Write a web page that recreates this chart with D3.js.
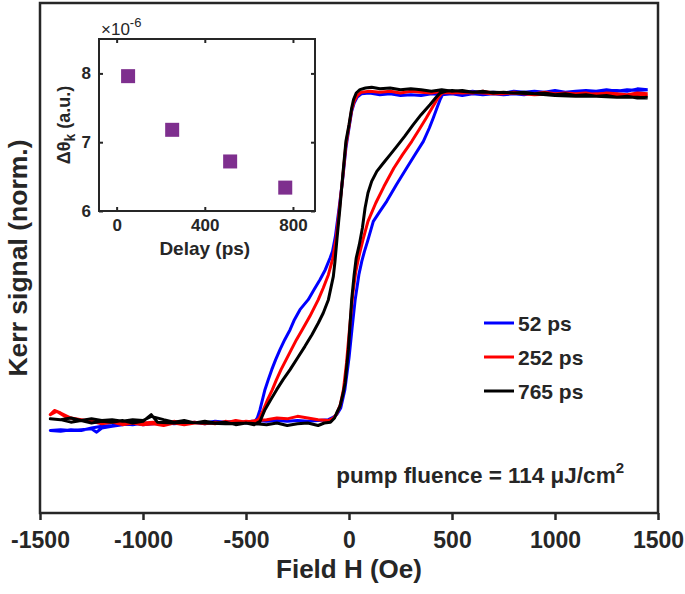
<!DOCTYPE html>
<html>
<head>
<meta charset="utf-8">
<script src="https://cdn.jsdelivr.net/npm/d3@7"></script>
<style>
  body { margin: 0; background: #fff; }
  text { font-family: "Liberation Sans", Arial, sans-serif; font-weight: bold; fill: #262626; }
</style>
</head>
<body>
<div id="chart"></div>
<script>
// hysteresis loops, [field (Oe), normalized Kerr signal], down branch then up branch
var loop52 = [
  [1450, 1.01], [1400, 1.015], [1350, 1.0], [1300, 1.005], [1250, 0.995], [1200, 1.0], [1150, 0.99], [1100, 0.995],
  [1050, 0.985], [1000, 0.99], [950, 0.985], [900, 0.99], [850, 0.98], [800, 0.985], [750, 0.98], [700, 0.985],
  [650, 0.98], [600, 0.985], [550, 0.975], [500, 0.985], [450, 0.98], [400, 0.985], [350, 0.975], [300, 0.98],
  [250, 0.975], [200, 0.985], [150, 0.98], [100, 0.99], [60, 0.985], [40, 0.965], [25, 0.93], [13, 0.88],
  [0, 0.78], [-15, 0.66], [-30, 0.48], [-48, 0.30], [-66, 0.13], [-80, 0.04], [-92, 0.0], [-115, -0.07],
  [-141, -0.13], [-170, -0.19], [-198, -0.25], [-238, -0.31], [-265, -0.37], [-286, -0.43], [-312, -0.49],
  [-335, -0.55], [-356, -0.61], [-375, -0.67], [-392, -0.73], [-408, -0.79], [-420, -0.85], [-432, -0.91],
  [-445, -0.96], [-460, -0.985], [-500, -0.99], [-550, -0.98], [-600, -0.99], [-650, -0.985], [-700, -0.995],
  [-750, -0.985], [-800, -0.99], [-850, -0.995], [-900, -0.985], [-950, -0.995], [-1000, -1.0], [-1050, -0.99],
  [-1100, -1.0], [-1150, -1.01], [-1200, -1.02], [-1225, -1.045], [-1250, -1.025], [-1300, -1.03], [-1350, -1.035],
  [-1400, -1.03], [-1450, -1.035],
  [-1400, -1.04], [-1350, -1.03], [-1300, -1.035], [-1250, -1.02], [-1200, -1.01], [-1150, -1.005], [-1100, -0.995],
  [-1050, -1.0], [-1000, -0.99], [-950, -0.995], [-900, -0.99], [-850, -0.985], [-800, -0.995], [-750, -0.985],
  [-700, -0.99], [-650, -0.98], [-600, -0.985], [-550, -0.98], [-500, -0.985], [-450, -0.975], [-400, -0.98],
  [-350, -0.975], [-300, -0.98], [-250, -0.975], [-200, -0.98], [-150, -0.975], [-100, -0.97], [-75, -0.955],
  [-60, -0.94], [-40, -0.9], [-20, -0.79], [0, -0.6], [15, -0.42], [30, -0.25], [48, -0.1], [62, -0.02],
  [75, 0.04], [90, 0.10], [118, 0.22], [150, 0.28], [183, 0.34], [230, 0.44], [280, 0.54], [320, 0.62],
  [361, 0.70], [390, 0.78], [409, 0.84], [430, 0.91], [442, 0.95], [458, 0.99], [500, 0.995], [550, 0.99],
  [600, 1.0], [650, 0.99], [700, 0.995], [750, 0.99], [800, 1.0], [850, 0.995], [900, 1.0], [950, 0.995],
  [1000, 1.005], [1050, 0.995], [1100, 1.0], [1150, 1.005], [1200, 1.0], [1250, 1.01], [1300, 1.0],
  [1350, 1.01], [1400, 1.005], [1450, 1.01]
];

var loop252 = [
  [1450, 0.985], [1400, 0.99], [1350, 0.98], [1300, 0.985], [1250, 0.99], [1200, 0.98], [1150, 0.99], [1100, 0.985],
  [1050, 0.99], [1000, 0.985], [950, 0.995], [900, 0.985], [850, 0.99], [800, 0.995], [750, 0.985], [700, 0.99],
  [650, 1.0], [600, 0.99], [550, 0.995], [500, 0.99], [450, 1.0], [400, 0.99], [350, 0.995], [300, 1.0],
  [250, 0.99], [200, 1.0], [150, 0.995], [100, 1.0], [60, 0.995], [40, 0.975], [25, 0.94], [13, 0.89],
  [0, 0.79], [-15, 0.68], [-30, 0.49], [-46, 0.30], [-62, 0.12], [-78, 0.0], [-100, -0.1], [-125, -0.18],
  [-149, -0.25], [-190, -0.35], [-227, -0.43], [-255, -0.49], [-280, -0.55], [-305, -0.61], [-330, -0.67],
  [-352, -0.73], [-372, -0.79], [-395, -0.85], [-415, -0.91], [-435, -0.96], [-455, -0.985], [-500, -0.98],
  [-550, -0.99], [-600, -0.98], [-650, -0.995], [-700, -0.985], [-750, -0.99], [-800, -1.0], [-850, -0.99],
  [-900, -1.005], [-950, -0.995], [-1000, -1.0], [-1050, -0.99], [-1100, -1.0], [-1150, -0.985], [-1200, -0.995],
  [-1250, -0.98], [-1300, -0.97], [-1350, -0.96], [-1400, -0.93], [-1430, -0.915], [-1450, -0.94],
  [-1420, -0.92], [-1380, -0.95], [-1340, -0.965], [-1300, -0.975], [-1250, -0.97], [-1200, -0.985], [-1150, -0.975],
  [-1100, -0.99], [-1050, -0.98], [-1000, -0.99], [-950, -0.985], [-900, -0.995], [-850, -0.98], [-800, -0.99],
  [-750, -0.985], [-700, -0.995], [-650, -0.985], [-600, -0.99], [-550, -0.975], [-500, -0.985], [-450, -0.975],
  [-400, -0.97], [-350, -0.96], [-300, -0.965], [-250, -0.95], [-200, -0.96], [-150, -0.97], [-100, -0.975],
  [-75, -0.96], [-60, -0.935], [-42, -0.88], [-27, -0.79], [-12, -0.63], [3, -0.42], [18, -0.22], [33, -0.08],
  [48, 0.01], [68, 0.11], [92, 0.22], [130, 0.33], [170, 0.43], [218, 0.54], [260, 0.62], [305, 0.70],
  [340, 0.77], [375, 0.84], [408, 0.91], [432, 0.96], [452, 0.99], [500, 0.995], [550, 0.99], [600, 0.995],
  [700, 0.985], [800, 0.99], [900, 0.98], [1000, 0.985], [1100, 0.98], [1200, 0.985], [1300, 0.975],
  [1400, 0.98], [1450, 0.975]
];

var loop765 = [
  [1450, 0.965], [1400, 0.96], [1350, 0.97], [1300, 0.965], [1250, 0.975], [1200, 0.97], [1150, 0.98], [1100, 0.975],
  [1050, 0.985], [1000, 0.98], [950, 0.99], [900, 0.985], [850, 0.995], [800, 0.99], [750, 0.995], [700, 0.99],
  [650, 1.0], [600, 0.995], [550, 1.005], [500, 1.0], [450, 1.01], [400, 1.0], [350, 1.01], [300, 1.015],
  [250, 1.01], [200, 1.02], [150, 1.015], [110, 1.025], [80, 1.02], [53, 1.01], [35, 0.99], [22, 0.95],
  [13, 0.90], [0, 0.80], [-15, 0.70], [-30, 0.50], [-44, 0.30], [-58, 0.12], [-68, -0.02], [-76, -0.11],
  [-100, -0.25], [-125, -0.33], [-149, -0.39], [-180, -0.46], [-214, -0.53], [-250, -0.60], [-286, -0.67],
  [-320, -0.73], [-351, -0.79], [-380, -0.85], [-408, -0.91], [-432, -0.98], [-460, -1.0], [-500, -0.99],
  [-550, -1.0], [-600, -0.985], [-650, -0.99], [-700, -0.98], [-750, -0.99], [-800, -0.975], [-850, -0.985],
  [-900, -0.97], [-960, -0.95], [-1000, -0.975], [-1050, -0.97], [-1100, -0.98], [-1150, -0.97], [-1200, -0.975],
  [-1250, -0.965], [-1300, -0.975], [-1350, -0.96], [-1400, -0.97], [-1450, -0.965],
  [-1400, -0.97], [-1350, -0.985], [-1300, -0.975], [-1250, -0.99], [-1200, -0.98], [-1150, -0.985], [-1100, -0.975],
  [-1050, -0.99], [-1000, -0.98], [-960, -0.94], [-930, -0.985], [-850, -0.99], [-800, -0.985], [-700, -0.99],
  [-600, -0.995], [-500, -0.99], [-450, -0.995], [-400, -1.0], [-350, -0.99], [-300, -1.005], [-250, -0.995],
  [-200, -0.99], [-150, -1.005], [-120, -0.99], [-90, -0.985], [-70, -0.96], [-60, -0.93], [-44, -0.89],
  [-30, -0.82], [-19, -0.75], [-3, -0.55], [13, -0.25], [25, -0.1], [35, 0.0], [50, 0.08], [65, 0.18],
  [78, 0.30], [92, 0.39], [110, 0.46], [135, 0.52], [167, 0.57], [200, 0.62], [232, 0.67], [270, 0.73],
  [312, 0.80], [350, 0.86], [393, 0.92], [420, 0.96], [442, 0.99], [470, 1.0], [500, 1.005], [600, 0.995],
  [700, 0.995], [800, 0.99], [900, 0.985], [1000, 0.975], [1100, 0.97], [1200, 0.97], [1300, 0.965],
  [1400, 0.965], [1450, 0.96]
];

var seriesNames = ["52 ps", "252 ps", "765 ps"];
var seriesColors = ["#0000ff", "#ff0000", "#000000"];
var fieldTicks = [-1500, -1000, -500, 0, 500, 1000, 1500];

// inset: Kerr rotation change vs delay
var delays = [52, 252, 515, 765];
var deltaTheta = [7.96, 7.18, 6.72, 6.34];
var delayTicks = [0, 400, 800];
var thetaTicks = [6, 7, 8];

var width = 685, height = 594;
var margin = {top: 3, right: 27, bottom: 81, left: 40};

var svg = d3.select("#chart")
    .append("svg")
    .attr("width", width)
    .attr("height", height);

var x = d3.scaleLinear()
    .domain([-1500, 1500])
    .range([margin.left, width - margin.right]);
var y = d3.scaleLinear()
    .domain([-1.53, 1.53])
    .range([height - margin.bottom, margin.top]);

// plain hyphen for negatives, like the original
var plain = function (d) { return String(d); };

// x axis, ticks pointing out
var xAxis = svg.append("g")
    .attr("transform", "translate(0," + (height - margin.bottom) + ")")
    .call(d3.axisBottom(x).tickValues(fieldTicks).tickSize(7).tickPadding(12).tickFormat(plain));
xAxis.select(".domain").remove();
xAxis.selectAll("line").attr("stroke", "#262626").attr("stroke-width", 2.5);
xAxis.selectAll("text").style("font-size", "23px").style("font-family", null).attr("fill", "#262626");

// loops
var line = d3.line()
    .x(function (d) { return x(d[0]); })
    .y(function (d) { return y(d[1]); });

var loops = [loop52, loop252, loop765];
svg.selectAll("path.loop")
    .data(loops)
    .enter()
    .append("path")
    .attr("class", "loop")
    .attr("d", line)
    .attr("fill", "none")
    .attr("stroke", function (d, i) { return seriesColors[i]; })
    .attr("stroke-width", 3)
    .attr("stroke-linejoin", "round");

// frame
svg.append("rect")
    .attr("x", margin.left)
    .attr("y", margin.top)
    .attr("width", width - margin.left - margin.right)
    .attr("height", height - margin.top - margin.bottom)
    .attr("fill", "none")
    .attr("stroke", "#262626")
    .attr("stroke-width", 2.5);

// axis labels
svg.append("text")
    .attr("x", x(0))
    .attr("y", 578)
    .attr("text-anchor", "middle")
    .style("font-size", "26px")
    .text("Field H (Oe)");

svg.append("text")
    .attr("transform", "translate(27," + y(0) + ")rotate(-90)")
    .attr("text-anchor", "middle")
    .style("font-size", "26.5px")
    .text("Kerr signal (norm.)");

// legend
var legend = svg.selectAll("g.leg")
    .data(seriesNames)
    .enter()
    .append("g")
    .attr("class", "leg")
    .attr("transform", function (d, i) { return "translate(484," + (323 + i * 34) + ")"; });
legend.append("line")
    .attr("x1", 0).attr("x2", 30)
    .attr("stroke", function (d, i) { return seriesColors[i]; })
    .attr("stroke-width", 3);
legend.append("text")
    .attr("x", 34)
    .attr("dy", "0.36em")
    .style("font-size", "21px")
    .text(function (d) { return d; });

// pump fluence note
var note = svg.append("text")
    .attr("x", 624)
    .attr("y", 483)
    .attr("text-anchor", "end")
    .style("font-size", "22.5px");
note.append("tspan").text("pump fluence = 114 \u03bcJ/cm");
note.append("tspan").attr("dy", "-10").style("font-size", "15px").text("2");

// ---------- inset ----------
var ix = d3.scaleLinear().domain([-80, 900]).range([99, 315]);
var iy = d3.scaleLinear().domain([6, 8.5]).range([211, 39]);

var inset = svg.append("g");
inset.append("rect")
    .attr("x", 99).attr("y", 39)
    .attr("width", 216).attr("height", 172)
    .attr("fill", "#fff");

function styleAxis(g, labels) {
    g.select(".domain").remove();
    g.selectAll("line").attr("stroke", "#262626").attr("stroke-width", 2);
    if (labels) {
        g.selectAll("text").style("font-size", "17px").style("font-family", null).attr("fill", "#262626");
    } else {
        g.selectAll("text").remove();
    }
}

inset.append("g")
    .attr("transform", "translate(0,211)")
    .call(d3.axisBottom(ix).tickValues(delayTicks).tickFormat(plain).tickSizeInner(-4).tickSizeOuter(0).tickPadding(8))
    .call(styleAxis, true);
inset.append("g")
    .attr("transform", "translate(0,39)")
    .call(d3.axisTop(ix).tickValues(delayTicks).tickSizeInner(-4).tickSizeOuter(0))
    .call(styleAxis, false);
inset.append("g")
    .attr("transform", "translate(99,0)")
    .call(d3.axisLeft(iy).tickValues(thetaTicks).tickFormat(plain).tickSizeInner(-4).tickSizeOuter(0).tickPadding(8))
    .call(styleAxis, true);
inset.append("g")
    .attr("transform", "translate(315,0)")
    .call(d3.axisRight(iy).tickValues(thetaTicks).tickSizeInner(-4).tickSizeOuter(0))
    .call(styleAxis, false);

inset.selectAll("rect.pt")
    .data(delays)
    .enter()
    .append("rect")
    .attr("class", "pt")
    .attr("x", function (d) { return ix(d) - 7; })
    .attr("y", function (d, i) { return iy(deltaTheta[i]) - 7; })
    .attr("width", 14)
    .attr("height", 14)
    .attr("fill", "#7e2f8e");

inset.append("rect")
    .attr("x", 99).attr("y", 39)
    .attr("width", 216).attr("height", 172)
    .attr("fill", "none")
    .attr("stroke", "#262626")
    .attr("stroke-width", 2);

inset.append("text")
    .attr("x", ix(400))
    .attr("y", 255)
    .attr("text-anchor", "middle")
    .style("font-size", "19px")
    .text("Delay (ps)");

var yl = inset.append("text")
    .attr("transform", "translate(70,125)rotate(-90)")
    .attr("text-anchor", "middle")
    .style("font-size", "18px");
yl.append("tspan").text("\u0394\u03b8");
yl.append("tspan").attr("dy", 5).style("font-size", "14px").text("k");
yl.append("tspan").attr("dy", -5).text(" (a.u.)");

var mult = inset.append("text")
    .attr("x", 101)
    .attr("y", 35)
    .style("font-size", "17px")
    .style("font-weight", "normal");
mult.append("tspan").text("\u00d710");
mult.append("tspan").attr("dy", -8).style("font-size", "13px").text("-6");
</script>
</body>
</html>
